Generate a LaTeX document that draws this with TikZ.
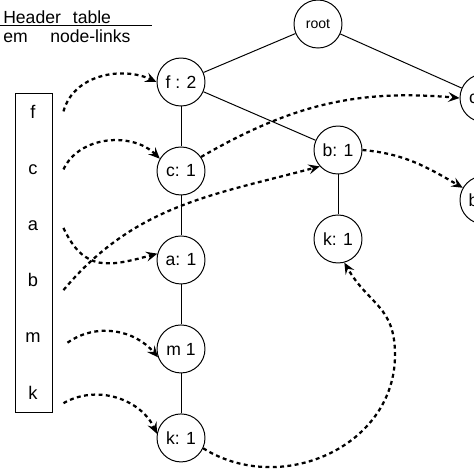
\documentclass[tikz,border=0pt]{standalone}
\usepackage{fontspec}
\setmainfont{Liberation Sans}
\usetikzlibrary{positioning, arrows.meta}
\tikzstyle{item}=[circle, minimum size = 1.2cm, inner sep=0pt, draw=black, line width=0.7pt, font=\fontsize{12.5}{14}\selectfont]
\tikzstyle{entry}=[inner sep=0pt, anchor=base, font=\fontsize{13}{15}\selectfont]
\tikzstyle{edge}=[line width=0.7pt]
\tikzstyle{link}=[line width=1.6pt, dash pattern=on 2.8pt off 2.4pt, -{Stealth[length=8pt,width=7pt,inset=3pt]}]

\begin{document}
\begin{tikzpicture}
            %FP-tree with the header table and its node-links
            \useasboundingbox (0,0) rectangle (11.85,-11.85);
            \clip (0,0) rectangle (11.85,-11.85);
            \node[inner sep=0pt, anchor=base west, font=\fontsize{12.5}{14}\selectfont](title) at (0.075,-0.575){Header\hspace{0.3cm}table};
            \draw[edge] (0,-0.625) -- (3.8,-0.625);
            \node[inner sep=0pt, anchor=base west, font=\fontsize{12.5}{14}\selectfont](itemcol) at (0.075,-1.05){em};
            \node[inner sep=0pt, anchor=base west, font=\fontsize{12.5}{14}\selectfont](linkcol) at (1.25,-1.05){node-links};
            \node[draw, edge, inner sep=0pt, minimum width=0.925cm, minimum height=7.975cm](htab) at (0.8375,-6.3125){};
            \foreach \l [count=\i] in {f,c,a,b,m,k}{
                \node[entry](h\l) at (0.825,{-2.95-1.405*(\i-1)}){\l};
            }
            \node[item, font=\fontsize{10}{12}\selectfont](root) at (7.95,-0.6){root};
            \node[item](f2) at (4.525,-2.05){f : 2};
            \node[item, below = 1cm of f2](c1){c: 1};
            \node[item, below = 1cm of c1](a1){a: 1};
            \node[item, below = 1cm of a1](m1){m 1};
            \node[item, below = 1cm of m1](k1){k: 1};
            \node[item](b1) at (8.45,-3.75){b: 1};
            \node[item, below = 1cm of b1](k2){k: 1};
            \node[item](c2) at (12.1,-2.45){c: 1};
            \node[item](b2) at (12.1,-5.0){b: 1};
            \coordinate (turn) at (9.875,-8.875);
            \draw[edge] (root) to (f2);
            \draw[edge] (root) to (c2);
            \draw[edge] (f2) to (b1);
            \draw[edge] (f2) to (c1);
            \draw[edge] (c1) to (a1);
            \draw[edge] (a1) to (m1);
            \draw[edge] (m1) to (k1);
            \draw[edge] (b1) to (k2);
            \draw[link] ([xshift=0.275cm]htab.east |- hf) to[out=75,in=155] (f2.west);
            \draw[link] ([xshift=0.275cm]htab.east |- hc) to[out=65,in=135] (c1.150);
            \draw[link] ([xshift=0.275cm,yshift=-0.06cm]htab.east |- ha) to[out=-65,in=195,looseness=1.3] (a1.165);
            \draw[link] ([xshift=0.275cm,yshift=-0.25cm]htab.east |- hb) to[out=50,in=195] (b1.222);
            \draw[link] ([xshift=0.375cm,yshift=-0.12cm]htab.east |- hm) to[out=35,in=130] (m1.200);
            \draw[link] ([xshift=0.275cm,yshift=-0.27cm]htab.east |- hk) to[out=30,in=115] (k1.170);
            \draw[link] (c1.35) to[out=30,in=175] (c2.west);
            \draw[link] (b1.east) to[out=-5,in=150] (b2.150);
            \draw[link] (k1.-25) to[out=-32,in=-90,looseness=1.1] (turn) to[out=90,in=-60,looseness=1.2] (k2.-75);
        \end{tikzpicture}
\end{document}
